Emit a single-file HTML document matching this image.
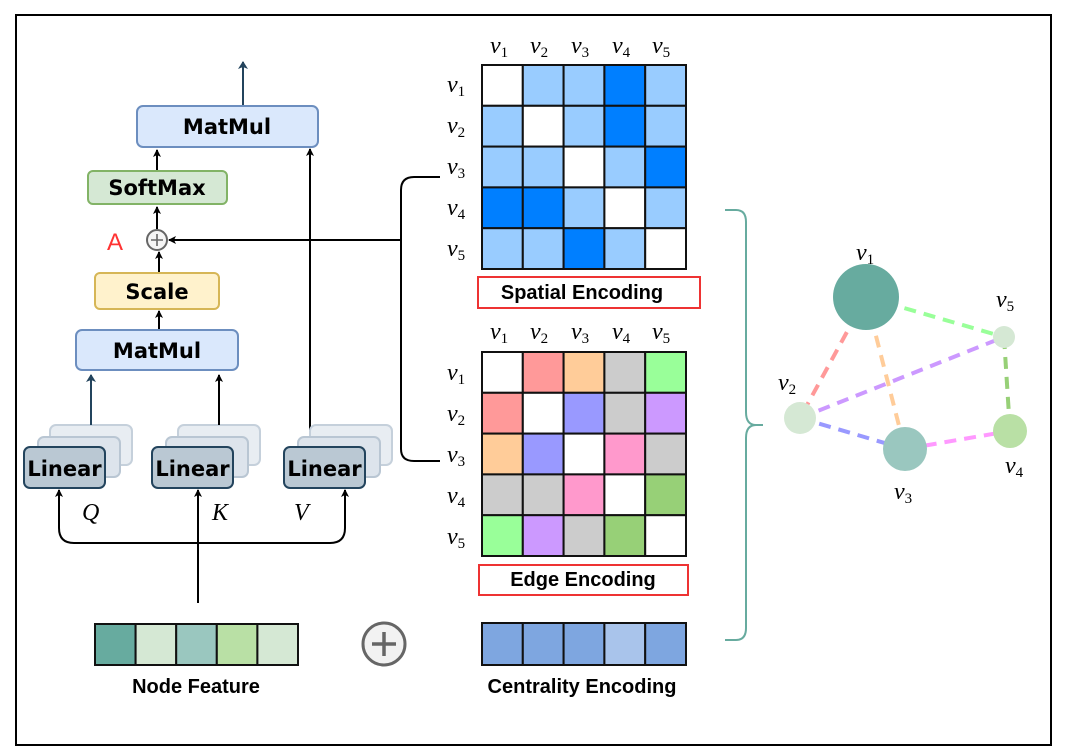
<!DOCTYPE html>
<html><head><meta charset="utf-8"><style>
html,body{margin:0;padding:0;background:#fff;}
svg{display:block;}
.b{font-family:"DejaVu Sans","Liberation Sans",sans-serif;font-weight:bold;font-size:21px;text-anchor:middle;}
.l{font-family:"Liberation Sans",sans-serif;font-weight:bold;font-size:20px;text-anchor:middle;}
.v{font-family:"Liberation Serif",serif;font-style:italic;font-size:24px;}
.s{font-family:"Liberation Serif",serif;font-style:normal;font-size:15px;}
</style></head><body>
<svg id="g" width="1066" height="755" viewBox="0 0 1066 755" xmlns="http://www.w3.org/2000/svg">
<defs>
<marker id="ah" markerWidth="8" markerHeight="8" refX="7" refY="4" orient="auto-start-reverse" markerUnits="userSpaceOnUse"><path d="M0,0 L8,4 L0,8 L2,4z" fill="#000"/></marker>
<marker id="ahd" markerWidth="8" markerHeight="10" refX="7" refY="5" orient="auto" markerUnits="userSpaceOnUse"><path d="M0,0 L8,5 L0,10 L2,5z" fill="#23445d"/></marker>
</defs>
<rect x="16" y="15" width="1035" height="730" fill="none" stroke="#000" stroke-width="2"/>

<line x1="243" y1="112" x2="243" y2="62" stroke="#23445d" stroke-width="2" marker-end="url(#ahd)"/>
<rect x="137" y="106" width="181" height="41" rx="6" fill="#dae8fc" stroke="#6c8ebf" stroke-width="2"/>
<text class="b" x="227" y="134">MatMul</text>
<line x1="157" y1="170" x2="157" y2="150" stroke="#000" stroke-width="2" marker-end="url(#ah)"/>
<rect x="88" y="171" width="139" height="33" rx="5" fill="#d5e8d4" stroke="#82b366" stroke-width="2"/>
<text class="b" x="157" y="195">SoftMax</text>
<line x1="157" y1="229" x2="157" y2="207" stroke="#000" stroke-width="2" marker-end="url(#ah)"/>
<circle cx="157" cy="240" r="10" fill="#f5f5f5" stroke="#666" stroke-width="2"/>
<path d="M151,240 H163 M157,234 V246" stroke="#666" stroke-width="1.6"/>
<text x="115" y="250" font-family="Liberation Sans,sans-serif" font-size="24" fill="#ff3333" text-anchor="middle">A</text>
<line x1="159" y1="272" x2="159" y2="252" stroke="#000" stroke-width="2" marker-end="url(#ah)"/>
<rect x="95" y="273" width="124" height="36" rx="5" fill="#fff2cc" stroke="#d6b656" stroke-width="2"/>
<text class="b" x="157" y="299">Scale</text>
<line x1="159" y1="330" x2="159" y2="311" stroke="#000" stroke-width="2" marker-end="url(#ah)"/>
<rect x="76" y="330" width="162" height="40" rx="6" fill="#dae8fc" stroke="#6c8ebf" stroke-width="2"/>
<text class="b" x="157" y="358">MatMul</text>
<line x1="310" y1="430" x2="310" y2="149" stroke="#000" stroke-width="2" marker-end="url(#ah)"/>
<path d="M440,177 H414 Q401,177 401,190 V449 Q401,461 414,461 H440" fill="none" stroke="#000" stroke-width="2"/>
<line x1="401" y1="240" x2="169" y2="240" stroke="#000" stroke-width="2" marker-end="url(#ah)"/>

<g id="lin"></g>
<line x1="91" y1="425" x2="91" y2="375" stroke="#23445d" stroke-width="2" marker-end="url(#ahd)"/>
<line x1="219" y1="425" x2="219" y2="375" stroke="#000" stroke-width="2" marker-end="url(#ah)"/>
<path d="M59,490 V528 Q59,543 74,543 H330 Q345,543 345,528 V490" fill="none" stroke="#000" stroke-width="2" marker-start="url(#ah)" marker-end="url(#ah)"/>
<line x1="198" y1="603" x2="198" y2="490" stroke="#000" stroke-width="2" marker-end="url(#ah)"/>
<text class="v" x="82" y="520">Q</text>
<text class="v" x="212" y="520">K</text>
<text class="v" x="294" y="520">V</text>

<g id="nf"></g>
<text class="l" x="196" y="693">Node Feature</text>
<circle cx="384" cy="644" r="21" fill="#f2f2f2" stroke="#666" stroke-width="3"/>
<path d="M372,644 H396 M384,632 V656" stroke="#666" stroke-width="3.5"/>

<g id="mats"></g>
<rect x="478" y="277" width="222" height="31" fill="none" stroke="#ee3333" stroke-width="2"/>
<text class="l" x="582" y="299">Spatial Encoding</text>
<rect x="479" y="565" width="209" height="30" fill="none" stroke="#ee3333" stroke-width="2"/>
<text class="l" x="583" y="586">Edge Encoding</text>
<text class="l" x="582" y="693">Centrality Encoding</text>

<g font-family="Liberation Serif,serif" font-style="italic" font-size="24">
<text x="490" y="53">v<tspan font-size="15" font-style="normal" dy="4">1</tspan></text>
<text x="530" y="53">v<tspan font-size="15" font-style="normal" dy="4">2</tspan></text>
<text x="571" y="53">v<tspan font-size="15" font-style="normal" dy="4">3</tspan></text>
<text x="612" y="53">v<tspan font-size="15" font-style="normal" dy="4">4</tspan></text>
<text x="652" y="53">v<tspan font-size="15" font-style="normal" dy="4">5</tspan></text>
<text x="447" y="92">v<tspan font-size="15" font-style="normal" dy="4">1</tspan></text>
<text x="447" y="133">v<tspan font-size="15" font-style="normal" dy="4">2</tspan></text>
<text x="447" y="174">v<tspan font-size="15" font-style="normal" dy="4">3</tspan></text>
<text x="447" y="215">v<tspan font-size="15" font-style="normal" dy="4">4</tspan></text>
<text x="447" y="256">v<tspan font-size="15" font-style="normal" dy="4">5</tspan></text>
<text x="490" y="339">v<tspan font-size="15" font-style="normal" dy="4">1</tspan></text>
<text x="530" y="339">v<tspan font-size="15" font-style="normal" dy="4">2</tspan></text>
<text x="571" y="339">v<tspan font-size="15" font-style="normal" dy="4">3</tspan></text>
<text x="612" y="339">v<tspan font-size="15" font-style="normal" dy="4">4</tspan></text>
<text x="652" y="339">v<tspan font-size="15" font-style="normal" dy="4">5</tspan></text>
<text x="447" y="380">v<tspan font-size="15" font-style="normal" dy="4">1</tspan></text>
<text x="447" y="421">v<tspan font-size="15" font-style="normal" dy="4">2</tspan></text>
<text x="447" y="462">v<tspan font-size="15" font-style="normal" dy="4">3</tspan></text>
<text x="447" y="503">v<tspan font-size="15" font-style="normal" dy="4">4</tspan></text>
<text x="447" y="544">v<tspan font-size="15" font-style="normal" dy="4">5</tspan></text>
</g>

<path d="M725,210 H736 Q746,210 746,222 V412 Q746,425 756,425 H763 M756,425 Q746,425 746,438 V628 Q746,640 736,640 H725" fill="none" stroke="#67ab9f" stroke-width="2"/>

<g stroke-width="4" stroke-dasharray="12,8" fill="none">
<line x1="866" y1="297" x2="1004" y2="337" stroke="#99ff99"/>
<line x1="866" y1="297" x2="800" y2="418" stroke="#ff9999"/>
<line x1="866" y1="297" x2="905" y2="449" stroke="#ffcc99"/>
<line x1="800" y1="418" x2="1004" y2="337" stroke="#cc99ff"/>
<line x1="800" y1="418" x2="905" y2="449" stroke="#9999ff"/>
<line x1="905" y1="449" x2="1010" y2="431" stroke="#ff99ff"/>
<line x1="1004" y1="337" x2="1010" y2="431" stroke="#97d077"/>
</g>
<circle cx="866" cy="297" r="33" fill="#67ab9f"/>
<circle cx="1004" cy="337" r="11" fill="#d5e8d4"/>
<circle cx="800" cy="418" r="16" fill="#d5e8d4"/>
<circle cx="905" cy="449" r="22" fill="#9ac7bf"/>
<circle cx="1010" cy="431" r="17" fill="#b9e0a5"/>
<text class="v" x="856" y="260">v<tspan class="s" dy="4">1</tspan></text>
<text class="v" x="996" y="307">v<tspan class="s" dy="4">5</tspan></text>
<text class="v" x="778" y="390">v<tspan class="s" dy="4">2</tspan></text>
<text class="v" x="894" y="499">v<tspan class="s" dy="4">3</tspan></text>
<text class="v" x="1005" y="473">v<tspan class="s" dy="4">4</tspan></text>
</svg>
<script>
var NS="http://www.w3.org/2000/svg";
function el(p,t,a){var e=document.createElementNS(NS,t);for(var k in a)e.setAttribute(k,a[k]);p.appendChild(e);return e;}
var lin=document.getElementById("lin");
[24,152,284].forEach(function(x){
 el(lin,"rect",{x:x+26,y:425,width:82,height:40,rx:6,fill:"#e8edf2",stroke:"#c5d0db","stroke-width":2});
 el(lin,"rect",{x:x+14,y:437,width:82,height:40,rx:6,fill:"#dde4ec",stroke:"#b9c6d3","stroke-width":2});
 el(lin,"rect",{x:x,y:447,width:81,height:41,rx:6,fill:"#bac8d3",stroke:"#23445d","stroke-width":2});
 var t=el(lin,"text",{x:x+40.5,y:476,"class":"b"});t.textContent="Linear";
});
var nf=document.getElementById("nf");
["#67ab9f","#d5e8d4","#9ac7bf","#b9e0a5","#d5e8d4"].forEach(function(c,i){
 el(nf,"rect",{x:95+i*40.6,y:624,width:40.6,height:41,fill:c,stroke:"#111","stroke-width":2});});
var m=document.getElementById("mats");
var W="#ffffff",L="#99ccff",D="#007fff";
var sp=[[W,L,L,D,L],[L,W,L,D,L],[L,L,W,L,D],[D,D,L,W,L],[L,L,D,L,W]];
var R="#ff9999",O="#ffcc99",G="#cccccc",Gr="#99ff99",B="#9999ff",P="#cc99ff",Pk="#ff99cc",Dg="#97d077";
var ed=[[W,R,O,G,Gr],[R,W,B,G,P],[O,B,W,Pk,G],[G,G,Pk,W,Dg],[Gr,P,G,Dg,W]];
var cw=40.8;
function mat(d,y0){for(var r=0;r<5;r++)for(var c=0;c<5;c++)el(m,"rect",{x:482+c*cw,y:y0+r*cw,width:cw,height:cw,fill:d[r][c],stroke:"#111","stroke-width":2});}
mat(sp,65);mat(ed,352);
["#7ea6e0","#7ea6e0","#7ea6e0","#a9c4eb","#7ea6e0"].forEach(function(c,i){el(m,"rect",{x:482+i*cw,y:623,width:cw,height:42,fill:c,stroke:"#111","stroke-width":2});});
</script>
</body></html>
